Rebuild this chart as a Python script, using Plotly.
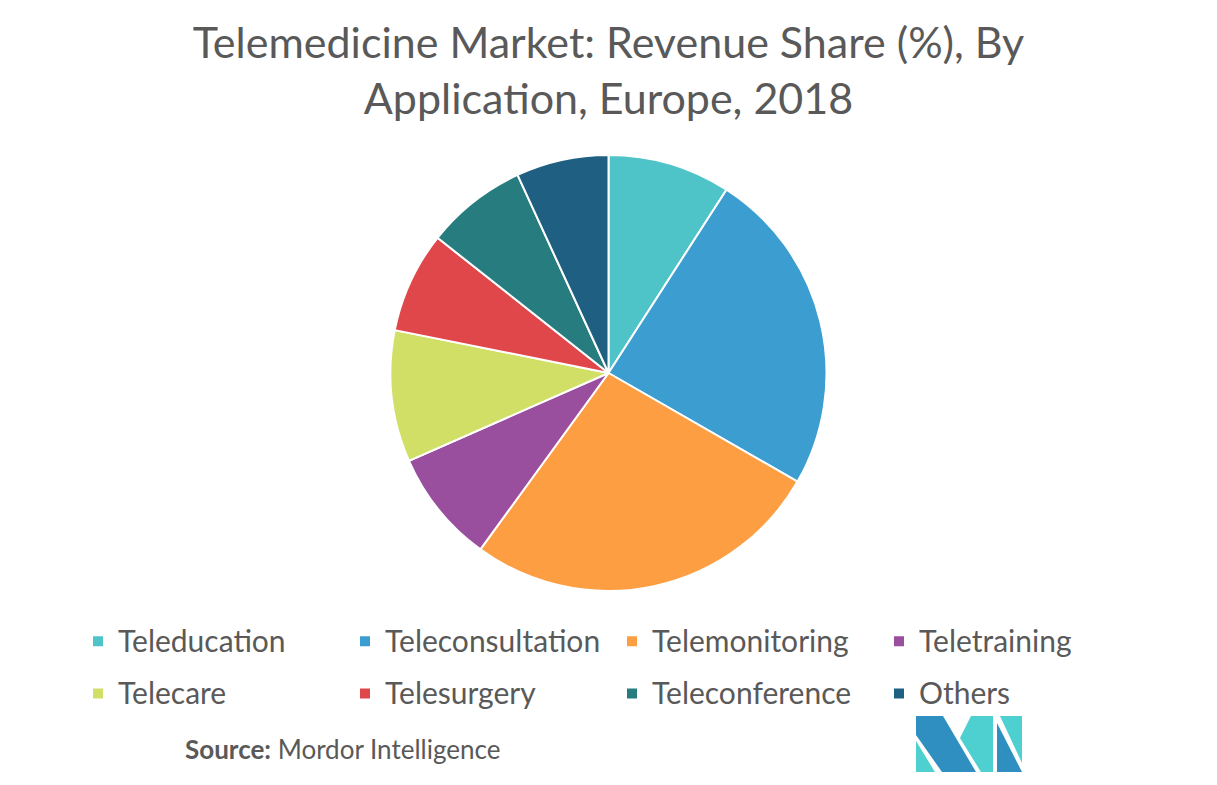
import plotly.graph_objects as go

categories = ["Teleducation", "Teleconsultation", "Telemonitoring", "Teletraining",
              "Telecare", "Telesurgery", "Teleconference", "Others"]
shares = [9.1, 24.2, 26.7, 8.4, 9.75, 7.5, 7.5, 6.85]
colors = ["#4FC4C8", "#3C9DD0", "#FD9E43", "#9A4F9E",
          "#D2DF66", "#E0474B", "#267C7E", "#1F5F82"]

W, H = 1217, 785
FONT = "Lato"
GRAY = "#595959"

legend_labels = [f"<span style='font-size:30px;baseline-shift:4px'>{c}</span>" for c in categories]

fig = go.Figure(go.Pie(
    labels=legend_labels,
    values=shares,
    marker=dict(colors=colors, line=dict(color="white", width=2)),
    sort=False,
    direction="clockwise",
    rotation=0,
    textinfo="none",
    hovertemplate="%{label}: %{value}%<extra></extra>",
    domain=dict(x=[0, 1], y=[1 - 591 / H, 1 - 155 / H]),
))

def px(x, y):
    return x / W, 1 - y / H

def poly(points, color):
    pts = [px(x, y) for x, y in points]
    path = "M" + " L".join(f"{a:.5f},{b:.5f}" for a, b in pts) + " Z"
    return dict(type="path", xref="paper", yref="paper", path=path,
                fillcolor=color, line=dict(width=0))

DARK, CYAN = "#2E8FC0", "#4ECFD0"
shapes = [
    poly([(916, 716), (943, 716), (976, 772), (942, 772), (916, 735)], DARK),
    poly([(916, 741), (916, 772), (935, 772)], CYAN),
    poly([(971, 716), (993, 716), (993, 772), (981, 772), (960, 738)], CYAN),
    poly([(997, 723), (997, 772), (1022, 772)], DARK),
    poly([(1000, 716), (1022, 716), (1022, 763)], CYAN),
]

fig.update_layout(
    width=W, height=H,
    margin=dict(l=0, r=0, t=0, b=0),
    paper_bgcolor="white",
    font=dict(family=FONT, color=GRAY),
    title=dict(
        text="Telemedicine Market: Revenue Share (%), By<br>Application, Europe, 2018",
        x=0.5, xanchor="center", y=1 - 58 / H, yanchor="top",
        font=dict(family=FONT, size=43, color=GRAY),
    ),
    legend=dict(
        orientation="h",
        x=78 / W, xanchor="left",
        y=1 - 610 / H, yanchor="top",
        font=dict(family=FONT, size=38, color=GRAY),
        entrywidth=222, entrywidthmode="pixels",
        itemclick=False, itemdoubleclick=False,
        bgcolor="rgba(0,0,0,0)",
    ),
    shapes=shapes,
    annotations=[dict(
        text="<b>Source:</b> Mordor Intelligence",
        x=183 / W, y=1 - 749 / H, xref="paper", yref="paper",
        xanchor="left", yanchor="middle", showarrow=False,
        font=dict(family=FONT, size=26, color=GRAY),
    )],
)

fig.write_html("out.html")
